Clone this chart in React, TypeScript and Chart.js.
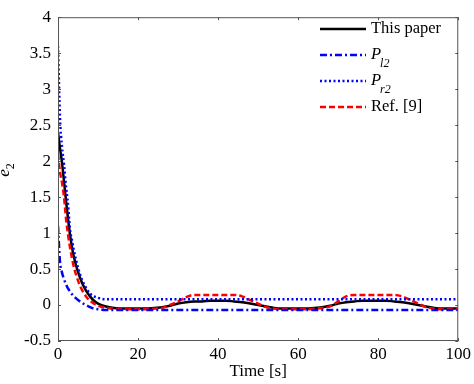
import React, { useEffect, useRef } from "react";
import { Chart, registerables } from "chart.js";

Chart.register(...registerables);

const timeValues = [
  0, 0.5, 1, 1.5, 2, 2.5, 3, 3.5, 4, 5, 6, 7, 8, 9, 10,
  12, 14, 16, 18, 20, 22, 24, 26, 28, 30, 32, 34, 36, 38, 40,
  42, 44, 46, 48, 50, 52, 54, 56, 58, 60, 62, 64, 66, 68, 70,
  72, 74, 76, 78, 80, 82, 84, 86, 88, 90, 92, 94, 96, 98, 100,
];

const thisPaper = [
  2.4, 2.18, 1.98, 1.72, 1.45, 1.2, 0.98, 0.8, 0.66, 0.46, 0.31, 0.2, 0.12, 0.06, 0.02,
  -0.02, -0.04, -0.05, -0.05, -0.05, -0.05, -0.04, -0.03, -0.01, 0.02, 0.04, 0.05, 0.05, 0.06, 0.06,
  0.06, 0.05, 0.04, 0.02, 0.0, -0.02, -0.04, -0.05, -0.05, -0.05, -0.05, -0.04, -0.03, -0.01, 0.02,
  0.04, 0.05, 0.06, 0.06, 0.06, 0.06, 0.05, 0.04, 0.02, 0.0, -0.02, -0.04, -0.05, -0.05, -0.05,
];

const pl2 = [
  1.1, 0.6, 0.45, 0.36, 0.29, 0.23, 0.19, 0.15, 0.12, 0.07, 0.03, 0.0, -0.03, -0.05, -0.06,
  -0.07, -0.07, -0.07, -0.07, -0.07, -0.07, -0.07, -0.07, -0.07, -0.07, -0.07, -0.07, -0.07, -0.07, -0.07,
  -0.07, -0.07, -0.07, -0.07, -0.07, -0.07, -0.07, -0.07, -0.07, -0.07, -0.07, -0.07, -0.07, -0.07, -0.07,
  -0.07, -0.07, -0.07, -0.07, -0.07, -0.07, -0.07, -0.07, -0.07, -0.07, -0.07, -0.07, -0.07, -0.07, -0.07,
];

const pr2 = [
  3.6, 2.6, 2.2, 1.95, 1.65, 1.4, 1.05, 0.9, 0.75, 0.52, 0.35, 0.24, 0.16, 0.12, 0.1,
  0.08, 0.08, 0.08, 0.08, 0.08, 0.08, 0.08, 0.08, 0.08, 0.08, 0.08, 0.08, 0.08, 0.08, 0.08,
  0.08, 0.08, 0.08, 0.08, 0.08, 0.08, 0.08, 0.08, 0.08, 0.08, 0.08, 0.08, 0.08, 0.08, 0.08,
  0.08, 0.08, 0.08, 0.08, 0.08, 0.08, 0.08, 0.08, 0.08, 0.08, 0.08, 0.08, 0.08, 0.08, 0.08,
];

const ref9 = [
  2.1, 1.85, 1.7, 1.5, 1.2, 0.98, 0.8, 0.65, 0.52, 0.34, 0.21, 0.12, 0.06, 0.02, -0.01,
  -0.04, -0.05, -0.06, -0.06, -0.06, -0.06, -0.05, -0.04, 0.0, 0.05, 0.11, 0.14, 0.14, 0.14, 0.14,
  0.14, 0.14, 0.12, 0.07, 0.02, -0.03, -0.05, -0.06, -0.06, -0.06, -0.06, -0.05, -0.04, -0.02, 0.05,
  0.12, 0.14, 0.14, 0.14, 0.14, 0.14, 0.14, 0.12, 0.07, 0.02, -0.03, -0.05, -0.06, -0.06, -0.06,
];

const xTicks = [0, 20, 40, 60, 80, 100];
const yTicks = [-0.5, 0, 0.5, 1, 1.5, 2, 2.5, 3, 3.5, 4];

const SERIF = '"Liberation Serif", "Times New Roman", serif';

const legendItems = [
  { main: "This paper", sub: "", italic: false, color: "#000000", dash: [] as number[] },
  { main: "P", sub: "l2", italic: true, color: "#0000ff", dash: [7, 3, 2, 3] },
  { main: "P", sub: "r2", italic: true, color: "#0000ff", dash: [2, 2.5] },
  { main: "Ref. [9]", sub: "", italic: false, color: "#ff0000", dash: [6, 3] },
];

const decorPlugin = {
  id: "decor",
  afterDraw(chart: any) {
    const ctx = chart.ctx as CanvasRenderingContext2D;
    const area = chart.chartArea;
    const xs = chart.scales.x;
    const ys = chart.scales.y;
    ctx.save();
    ctx.strokeStyle = "#555555";
    ctx.lineWidth = 1;
    ctx.setLineDash([]);
    ctx.strokeRect(area.left + 0.5, area.top + 0.5, area.right - area.left - 1, area.bottom - area.top - 1);
    ctx.beginPath();
    const tl = 3;
    for (const v of xTicks) {
      const px = Math.round(xs.getPixelForValue(v)) + 0.5;
      ctx.moveTo(px, area.bottom);
      ctx.lineTo(px, area.bottom - tl);
      ctx.moveTo(px, area.top);
      ctx.lineTo(px, area.top + tl);
    }
    for (const v of yTicks) {
      const py = Math.round(ys.getPixelForValue(v)) + 0.5;
      ctx.moveTo(area.left, py);
      ctx.lineTo(area.left + tl, py);
      ctx.moveTo(area.right, py);
      ctx.lineTo(area.right - tl, py);
    }
    ctx.stroke();

    const rowsY = [29, 55, 81, 107];
    const lx0 = 320;
    const lx1 = 366;
    const tx = 371;
    legendItems.forEach((it, i) => {
      const y = rowsY[i];
      ctx.strokeStyle = it.color;
      ctx.lineWidth = 2.5;
      ctx.setLineDash(it.dash);
      ctx.beginPath();
      ctx.moveTo(lx0, y);
      ctx.lineTo(lx1, y);
      ctx.stroke();
      ctx.setLineDash([]);
      ctx.fillStyle = "#000000";
      ctx.textBaseline = "middle";
      ctx.textAlign = "left";
      ctx.font = `${it.italic ? "italic " : ""}16.5px ${SERIF}`;
      ctx.fillText(it.main, tx, y);
      if (it.sub) {
        const w = ctx.measureText(it.main).width;
        ctx.font = `italic 12px ${SERIF}`;
        ctx.fillText(it.sub, tx + w - 1, y + 9);
      }
    });

    ctx.save();
    ctx.translate(9, 170);
    ctx.rotate(-Math.PI / 2);
    ctx.fillStyle = "#000000";
    ctx.textBaseline = "alphabetic";
    ctx.textAlign = "left";
    ctx.font = `italic 17px ${SERIF}`;
    const ew = ctx.measureText("e").width;
    ctx.fillText("e", -ew / 2 - 3, 0);
    ctx.font = `12px ${SERIF}`;
    ctx.fillText("2", ew / 2 - 3, 5);
    ctx.restore();

    ctx.restore();
  },
};

export default function App() {
  const canvasRef = useRef<HTMLCanvasElement | null>(null);

  useEffect(() => {
    if (!canvasRef.current) return;
    const mk = (vals: number[]) => timeValues.map((t, i) => ({ x: t, y: vals[i] }));
    const common = { pointRadius: 0, borderWidth: 2.5, cubicInterpolationMode: "monotone" as const, fill: false };
    const chart = new Chart(canvasRef.current, {
      type: "line",
      data: {
        datasets: [
          { ...common, label: "Pr2", data: mk(pr2), borderColor: "#0000ff", borderDash: [2, 2.5] },
          { ...common, label: "Pl2", data: mk(pl2), borderColor: "#0000ff", borderDash: [7, 3, 2, 3] },
          { ...common, label: "Ref. [9]", data: mk(ref9), borderColor: "#ff0000", borderDash: [6, 3] },
          { ...common, label: "This paper", data: mk(thisPaper), borderColor: "#000000" },
        ],
      },
      options: {
        animation: false,
        responsive: false,
        maintainAspectRatio: false,
        layout: { padding: { top: 5, right: 13, left: 0, bottom: 0 } },
        plugins: { legend: { display: false }, tooltip: { enabled: false } },
        scales: {
          x: {
            type: "linear",
            min: 0,
            max: 100,
            afterFit: (s: any) => { s.height = 43; },
            afterBuildTicks: (s: any) => { s.ticks = xTicks.map((v) => ({ value: v })); },
            grid: { display: false, drawTicks: false },
            border: { display: false },
            ticks: { color: "#000", font: { family: SERIF, size: 17 }, padding: 3, maxRotation: 0, callback: (v: any) => String(v) },
            title: { display: true, text: "Time [s]", color: "#000", font: { family: SERIF, size: 17 }, padding: { top: 0, bottom: 2 } },
          },
          y: {
            type: "linear",
            min: -0.5,
            max: 4,
            afterFit: (s: any) => { s.width = 58; },
            afterBuildTicks: (s: any) => { s.ticks = yTicks.map((v) => ({ value: v })); },
            grid: { display: false, drawTicks: false },
            border: { display: false },
            ticks: { color: "#000", font: { family: SERIF, size: 17 }, padding: 7, callback: (v: any) => String(v) },
          },
        },
      },
      plugins: [decorPlugin],
    });
    return () => chart.destroy();
  }, []);

  return (
    <div style={{ position: "fixed", left: 0, top: 0, width: 474, height: 384, background: "#fff" }}>
      <canvas ref={canvasRef} width={474} height={384} style={{ width: 474, height: 384 }} />
    </div>
  );
}
